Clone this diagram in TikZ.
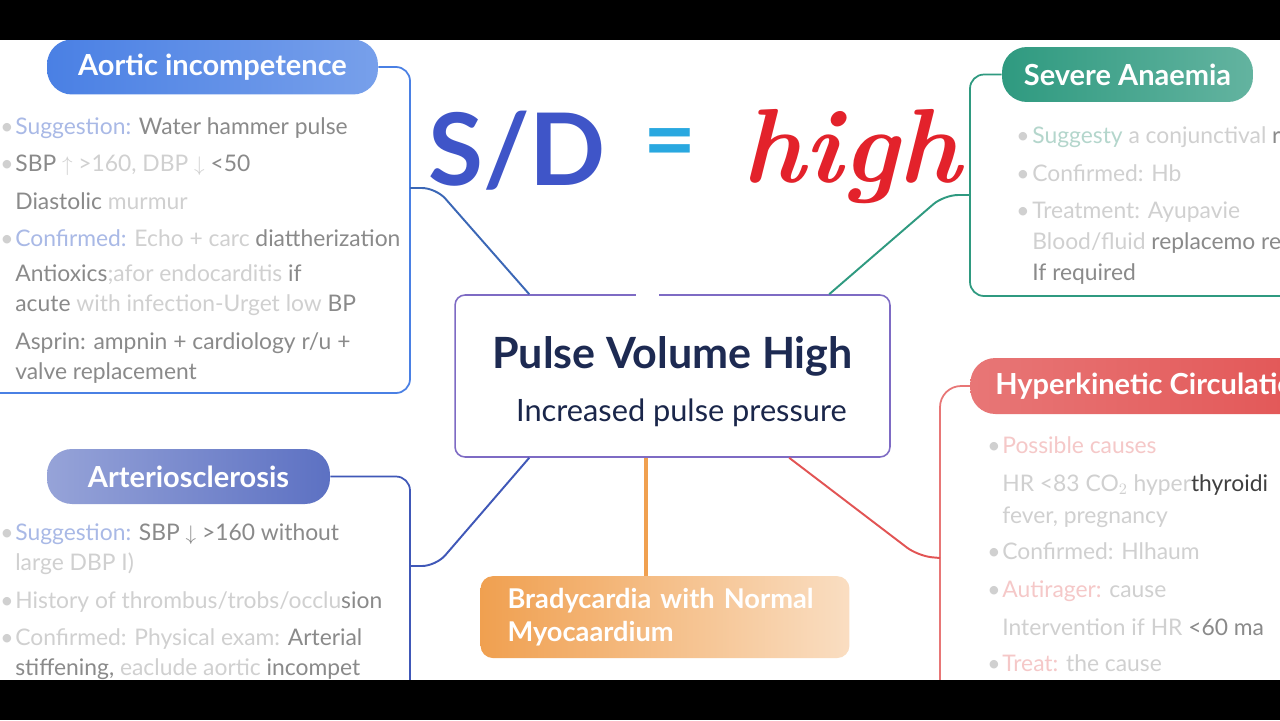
\documentclass[tikz,border=0pt]{standalone}
\usepackage{fontspec}
\setsansfont{Lato}
\renewcommand{\familydefault}{\sfdefault}
\usetikzlibrary{positioning}

\definecolor{aiblue}{HTML}{4A80E4}
\definecolor{arblue}{HTML}{4058B8}
\definecolor{saeteal}{HTML}{2F9A80}
\definecolor{hkred}{HTML}{E25454}
\definecolor{pvpurple}{HTML}{7E6BC4}
\definecolor{brorange}{HTML}{F0A050}
\definecolor{navy}{HTML}{1D2A52}
\definecolor{sdblue}{HTML}{3F55C8}
\definecolor{eqcyan}{HTML}{29A8E0}
\definecolor{highred}{HTML}{E3222B}
\definecolor{txtgray}{HTML}{8A8A8A}
\definecolor{txtfaint}{HTML}{D0D0D0}
\definecolor{keyblue}{HTML}{A9B9E6}
\definecolor{keyteal}{HTML}{B4D6CC}
\definecolor{keyred}{HTML}{F5C8C8}

\newcommand{\fa}[1]{\textcolor{txtfaint}{#1}}
\newcommand{\kb}[1]{\textcolor{keyblue}{#1}}
\newcommand{\kt}[1]{\textcolor{keyteal}{#1}}
\newcommand{\kr}[1]{\textcolor{keyred}{#1}}

\begin{document}
\begin{tikzpicture}[x=0.02cm, y=-0.02cm,
  pill/.style = {rounded corners=0.5cm, text=white, minimum height=1.1cm, font=\bfseries\fontsize{16.5}{20}\selectfont},
  body/.style = {anchor=base west, inner sep=0, text=txtgray, font=\fontsize{13}{15}\selectfont},
  dot/.style = {body, text=txtfaint},
  link/.style = {line width=1.1pt, rounded corners=8pt}]

\useasboundingbox (0,0) rectangle (1280,720);
\clip (0,0) rectangle (1280,720);
\fill[white] (0,0) rectangle (1280,720);

% S/D = high
\node[anchor=base west, text=sdblue, font=\bfseries\fontsize{57}{60}\selectfont] (sd) at (422,185) {S/D};
\node[text=eqcyan, font=\bfseries\fontsize{52}{60}\selectfont] (eq) at (670,150) {=};
\node[anchor=base west, text=highred, font=\rmfamily\bfseries\itshape\fontsize{60}{64}\selectfont] (high) at (736,182) {high};

% centre
\node[draw=pvpurple, line width=0.9pt, rounded corners=0.2cm, fill=white, minimum width=8.7cm, minimum height=3.24cm, align=center] (main) at (672.5,376)
  {{\fontsize{24.5}{28}\selectfont\bfseries\color{navy}\rule{0pt}{25pt}Pulse Volume High}\\[12pt]{\fontsize{17.5}{21}\selectfont\color{navy!90!black}\hspace{0.2cm} Increased pulse pressure}};
\draw[white, line width=2pt] ([xshift=3.64cm]main.north west) -- ([xshift=4.1cm]main.north west);

\node[pill, rounded corners=0.25cm, shading=axis, left color=brorange, right color=brorange!35, align=left, text width=6.3cm, inner xsep=0.54cm, minimum height=1.64cm, font=\bfseries\fontsize{15.5}{19}\selectfont, below=2.36cm of main, xshift=-0.15cm] (brady) {Bradycardia with Normal\\Myocaardium};
\draw[brorange, line width=1.8pt] ([xshift=-0.53cm]main.south) -- ([xshift=-0.53cm]main.south |- brady.north);

% Aortic incompetence
\node[pill, shading=axis, left color=aiblue, right color=aiblue!75, minimum width=6.62cm] (aortic) at (212.5,67) {Aortic incompetence};
\draw[aiblue, line width=1pt, rounded corners=8pt] (aortic.east) -| (410,393) -- (-10,393);
\coordinate (ai-out) at (410,188);
\draw[link, aiblue!80!black] (ai-out) -- (436,188) -- ([xshift=1.5cm]main.north west);
\foreach \y/\t in {127/{\kb{Suggestion:} Water hammer pulse},
                   164/{SBP \fa{$\uparrow$ >160, DBP $\downarrow$} <50},
                   202/{Diastolic \fa{murmur}},
                   239/{\kb{Confirmed:} \fa{Echo + carc} diattherization},
                   274/{Antioxics\fa{;afor endocarditis} if},
                   304/{acute \fa{with infection-Urget low} BP},
                   342/{Asprin: ampnin + cardiology r/u +},
                   372/{valve replacement}}
  \node[body] (ai-\y) at (15,\y+7) {\t};
\foreach \y in {127,164,239}
  \node[dot] (ai-dot-\y) at (0,\y+7) {•};

% Arteriosclerosis
\node[pill, shading=axis, left color=arblue!55, right color=arblue!85, minimum width=5.66cm] (arterio) at (188.5,476.5) {Arteriosclerosis};
\draw[arblue, line width=1pt, rounded corners=8pt] (arterio.east) -| (410,700);
\coordinate (ar-out) at (410,566);
\draw[link, arblue] (ar-out) -- (436,566) -- ([xshift=1.5cm]main.south west);
\foreach \y/\t in {533/{\kb{Suggestion:} SBP $\downarrow$ >160 without},
                   563/{\fa{large DBP I)}},
                   601/{\fa{History of thrombus/trobs/occlu}sion},
                   638/{\fa{Confirmed: Physical exam:} Arterial},
                   668/{stiffening, \fa{eaclude aortic} incompet}}
  \node[body] (ar-\y) at (15,\y+7) {\t};
\foreach \y in {533,601,638}
  \node[dot] (ar-dot-\y) at (0,\y+7) {•};

% Severe Anaemia
\node[pill, shading=axis, left color=saeteal, right color=saeteal!75, minimum width=5.02cm] (severe) at (1127.5,74.5) {Severe Anaemia};
\draw[saeteal, line width=1pt, rounded corners=8pt] (severe.west) -| (970,296) -- (1290,296);
\coordinate (sa-out) at (970,195);
\draw[link, saeteal] (sa-out) -- (944,195) -- ([xshift=7.5cm]main.north west);
\foreach \y/\t in {136/{\kt{Suggesty} \fa{a conjunctival} r},
                   174/{\fa{Confirmed: Hb}},
                   211/{\fa{Treatment: Ayupavie}},
                   242/{\fa{Blood/fluid} replacemo re},
                   273/{If required}}
  \node[body] (sa-\y) at (1032,\y+7) {\t};
\foreach \y in {136,174,211}
  \node[dot] (sa-dot-\y) at (1016,\y+7) {•};

% Hyperkinetic Circulation
\node[pill, anchor=west, shading=axis, left color=hkred!80, right color=hkred, minimum height=1.12cm, minimum width=7cm, inner xsep=0.5cm] (hyper) at (970,386) {Hyperkinetic Circulation};
\draw[hkred!80, line width=1pt, rounded corners=12pt] (hyper.west) -| (940,700);
\coordinate (hk-out) at (940,558);
\draw[link, hkred] (hk-out) -- (918,556) -- ([xshift=6.7cm]main.south west);
\foreach \y/\t in {446/{\kr{Possible causes}},
                   484/{\fa{HR <83 CO$_2$ hyper}\textcolor{black!75}{thyroidi}},
                   516/{\fa{fever, pregnancy}},
                   552/{\fa{Confirmed: Hlhaum}},
                   590/{\kr{Autirager:} \fa{cause}},
                   628/{\fa{Intervention if HR} <60 ma},
                   664/{\kr{Treat:} \fa{the cause}}}
  \node[body] (hk-\y) at (1002,\y+7) {\t};
\foreach \y in {446,552,590,664}
  \node[dot] (hk-dot-\y) at (987,\y+7) {•};

% bars
\fill[black] (0,0) rectangle (1280,40);
\fill[black] (0,680) rectangle (1280,720);
\end{tikzpicture}
\end{document}
